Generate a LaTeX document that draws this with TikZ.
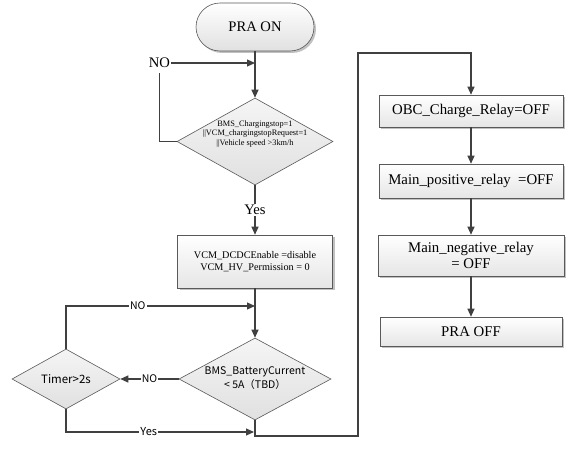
\documentclass[tikz,border=0pt]{standalone}
\usepackage{fontspec}
\setmainfont{Liberation Serif}
\newfontfamily\cjk{Noto Sans CJK SC}
\usetikzlibrary{arrows.meta,shapes.geometric,shapes.misc,shadows}
\begin{document}
\begin{tikzpicture}[x=1pt,y=-1pt,
  conn/.style={draw=black!75, line width=1.2pt, -{Triangle[length=8pt,width=7pt]}},
  plain/.style={draw=black!75, line width=1.2pt},
  shad/.style={drop shadow={shadow xshift=2pt, shadow yshift=-2pt, fill=black!40, opacity=0.6}},
  boxnode/.style={draw=black!65, line width=0.6pt, top color=white, bottom color=black!10, shad, inner sep=0pt, align=center, font=\fontsize{14.8}{17}\selectfont},
  startnode/.style={rounded rectangle, draw=black!65, line width=0.6pt, top color=white, bottom color=black!12, shad, inner sep=0pt, font=\fontsize{14.6}{17}\selectfont},
  dia/.style={diamond, draw=black!65, line width=0.6pt, top color=black!4, bottom color=black!12, inner sep=0pt},
  serlab/.style={inner sep=1pt, font=\fontsize{14.6}{17}\selectfont},
  sanslab/.style={inner sep=1pt, fill=white, font=\cjk\fontsize{10.5}{12}\selectfont},
]
\useasboundingbox (0,0) rectangle (584,452);
\fill[white] (0,0) rectangle (584,452);

% main column
\node[startnode, minimum width=118pt, minimum height=48pt] (prao) at (255,27) {PRA ON};
\node[dia, minimum width=156pt, minimum height=87pt] (d1) at (255,141.5) {};
\node[align=center, inner sep=0pt, font=\fontsize{8.3}{9.3}\selectfont] (d1t) at (255,134)
  {BMS\_Chargingstop=1\\||VCM\_chargingstopRequest=1\\||Vehicle speed >3km/h};
\node[boxnode, minimum width=155pt, minimum height=53pt, font=\fontsize{10.2}{12.5}\selectfont] (vcm) at (255,261.5)
  {VCM\_DCDCEnable =disable\\VCM\_HV\_Permission = 0};
\node[dia, minimum width=152pt, minimum height=82pt] (d2) at (255,379) {};
\node[align=center, inner sep=0pt, font=\cjk\fontsize{10.5}{14}\selectfont] (d2t) at (255,378)
  {BMS\_BatteryCurrent\\< 5A（TBD）};
\node[dia, minimum width=108pt, minimum height=60pt] (tm) at (66,379) {};
\node[inner sep=0pt, font=\cjk\fontsize{11.5}{13}\selectfont] (tmt) at (66,379) {Timer>2s};

% right column
\node[boxnode, minimum width=184pt, minimum height=32pt] (obc) at (471,111) {OBC\_Charge\_Relay=OFF};
\node[boxnode, minimum width=184pt, minimum height=34pt] (mp) at (471,181) {Main\_positive\_relay\ \ =OFF};
\node[boxnode, minimum width=186pt, minimum height=41pt, font=\fontsize{14.8}{16}\selectfont] (mn) at (471,255.5) {Main\_negative\_relay\\= OFF};
\node[boxnode, minimum width=182pt, minimum height=29pt] (poff) at (471,331.5) {PRA OFF};

% connectors
\draw[conn] (prao.south) -- (d1.north);
\node[serlab] (no1) at (159.5,63) {NO};
\draw[plain] (d1.west) -| ([yshift=-4pt]no1.south);
\draw[conn] (no1.east) -- (no1.east -| prao.south);
\draw[conn] (d1.south) -- node[serlab, fill=white]{Yes} (vcm.north);
\draw[conn] (vcm.south) -- (d2.north);
\coordinate (j1) at (255,306);
\draw[conn] (tm.north) |- node[sanslab, pos=0.69]{NO} (j1);
\draw[conn] (d2.west) -- node[sanslab]{NO} (tm.east);
\coordinate (j2) at (254,432);
\draw[conn] (tm.south) |- node[sanslab, pos=0.72, font=\cjk\fontsize{11}{12}\selectfont]{Yes} (j2);
\coordinate (c1) at (358,436);
\coordinate (c2) at (358,53);
\draw[conn] (d2.south) |- (c1) -- (c2) -| (obc.north);
\draw[conn] (obc.south) -- (mp.north);
\draw[conn] (mp.south) -- (mn.north);
\draw[conn] (mn.south) -- (poff.north);
\end{tikzpicture}
\end{document}
